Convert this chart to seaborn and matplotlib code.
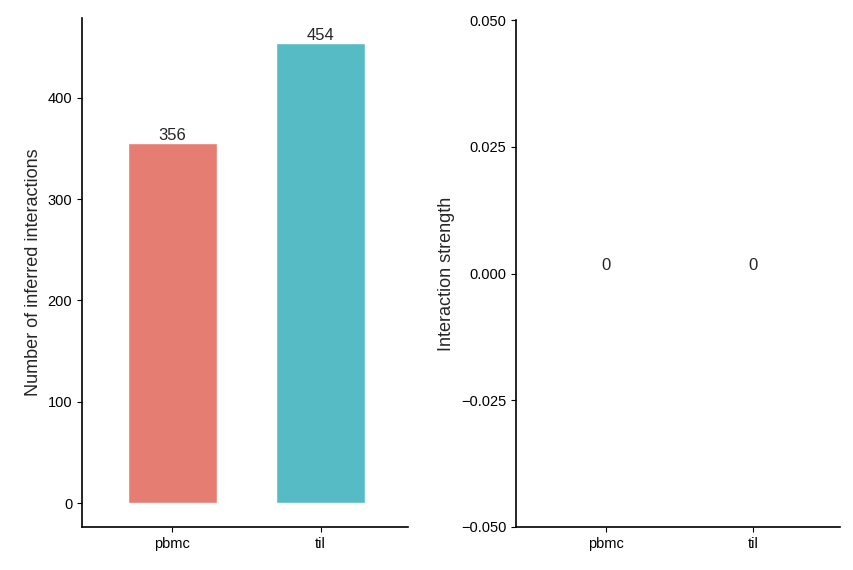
import pandas as pd
import matplotlib
matplotlib.use("Agg")
import matplotlib.pyplot as plt
import seaborn as sns

# data
groups = ["pbmc", "til"]
counts = [356, 454]
strength = [0, 0]
colors = ["#E57D72", "#56BBC4"]

sns.set_style("ticks")
plt.rcParams["font.family"] = ["Liberation Sans", "DejaVu Sans"]

df = pd.DataFrame({"group": groups, "count": counts, "strength": strength})

fig = plt.figure(figsize=(8.54, 5.70), dpi=100)
ax1 = fig.add_axes([82/854, 43/570, 326/854, 509/570])
ax2 = fig.add_axes([516/854, 43/570, 324/854, 507/570])

# left panel: number of interactions
sns.barplot(data=df, x="group", y="count", hue="group", palette=colors,
            width=0.6, legend=False, ax=ax1, saturation=1)
for i, v in enumerate(counts):
    ax1.text(i, v, str(v), ha="center", va="bottom", fontsize=12)
ax1.set_ylim(-23.7, 479)
ax1.set_xlim(-0.61, 1.59)
ax1.set_yticks([0, 100, 200, 300, 400])
ax1.set_ylabel("Number of inferred interactions", fontsize=13)
ax1.set_xlabel("")

# right panel: interaction strength (all zero)
sns.barplot(data=df, x="group", y="strength", hue="group", palette=colors,
            width=0.6, legend=False, ax=ax2, saturation=1)
for i, v in enumerate(strength):
    ax2.text(i, v, str(v), ha="center", va="bottom", fontsize=12)
ax2.set_ylim(-0.05, 0.05)
ax2.set_xlim(-0.61, 1.59)
ax2.set_yticks([-0.05, -0.025, 0, 0.025, 0.05])
ax2.set_yticklabels(["\u22120.050", "\u22120.025", "0.000", "0.025", "0.050"])
ax2.set_ylabel("Interaction strength", fontsize=13)
ax2.set_xlabel("")

for ax in (ax1, ax2):
    sns.despine(ax=ax)
    ax.tick_params(labelsize=10.5, color="black", labelcolor="black")
    for s in ("left", "bottom"):
        ax.spines[s].set_color("black")
        ax.spines[s].set_linewidth(1.2)

fig.savefig("out.png", dpi=100)
